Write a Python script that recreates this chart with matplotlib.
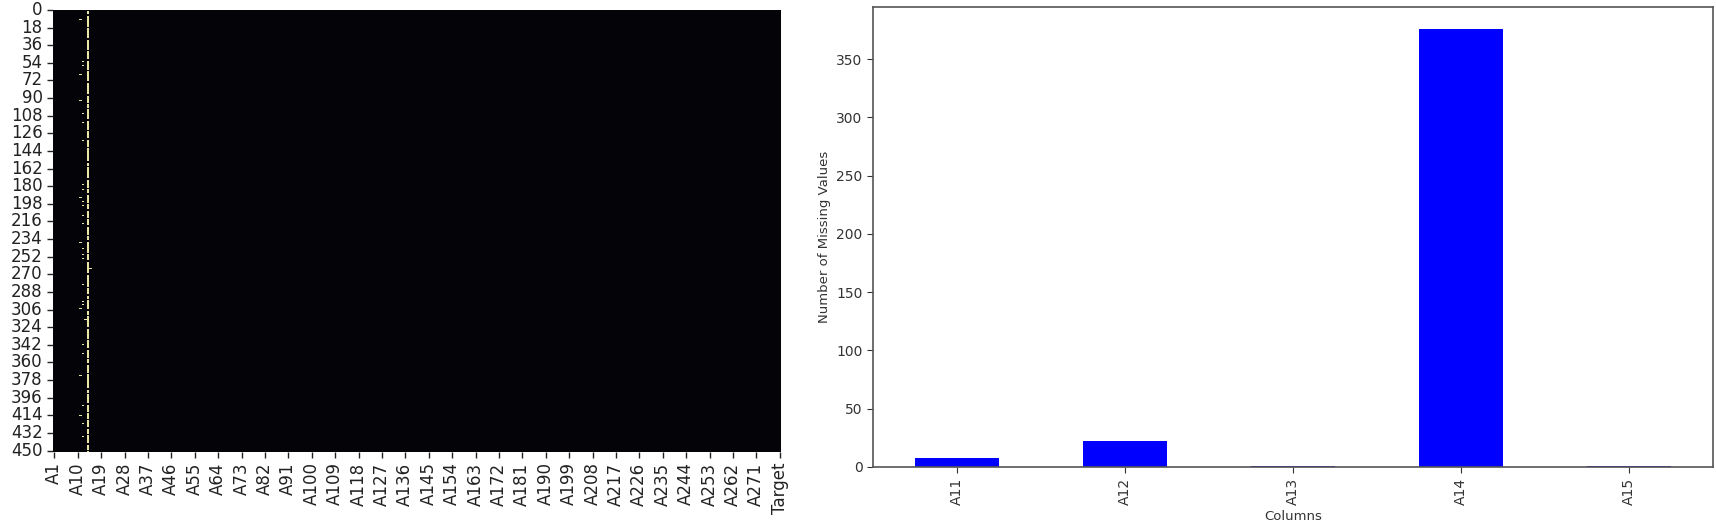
import numpy as np
import pandas as pd
import matplotlib
matplotlib.use("Agg")
import matplotlib.pyplot as plt
from matplotlib.colors import ListedColormap
import seaborn as sns

# ---- data ----
n_rows = 452
column_names = [f"A{i}" for i in range(1, 280)] + ["Target"]

# rows with missing values per column
a11_missing_rows = [10, 66, 92, 192, 238, 305, 373, 414]
a12_missing_rows = [53, 57, 106, 115, 133, 178, 183, 196, 200, 210, 218,
                    244, 250, 254, 280, 298, 301, 342, 351, 404, 422, 436]
a13_missing_rows = [316]
a15_missing_rows = [264]
# A14 is missing almost everywhere; these are the rows where it is present
a14_present_rows = [0, 1, 5, 6, 18, 29, 30, 41, 51, 52, 62, 73, 74, 86, 87,
                    95, 96, 101, 112, 113, 123, 131, 132, 140, 155, 156, 160,
                    172, 173, 182, 187, 188, 198, 204, 205, 213, 220, 221, 230,
                    235, 236, 249, 256, 257, 269, 270, 283, 291, 292, 296, 306,
                    307, 312, 324, 325, 337, 346, 347, 356, 361, 362, 371, 380,
                    387, 388, 392, 402, 403, 411, 418, 426, 427, 434, 443, 444,
                    450]

bar_columns = ["A11", "A12", "A13", "A14", "A15"]
missing_counts = [8, 22, 1, 376, 1]

# ---- build missing matrix ----
missing = pd.DataFrame(np.zeros((n_rows, len(column_names)), dtype=bool),
                       columns=column_names)
missing.loc[a11_missing_rows, "A11"] = True
missing.loc[a12_missing_rows, "A12"] = True
missing.loc[a13_missing_rows, "A13"] = True
missing.loc[a15_missing_rows, "A15"] = True
missing["A14"] = True
missing.loc[a14_present_rows, "A14"] = False

W, H = 1716, 523
fig = plt.figure(figsize=(W / 100, H / 100), dpi=100)

# ---- left: heatmap ----
ax1 = fig.add_axes([53 / W, (H - 452) / H, 728 / W, 442.5 / H])
cmap = ListedColormap(["#030308", "#ebe5a5"])
sns.heatmap(missing.astype(int), cmap=cmap, cbar=False,
            xticklabels=9, yticklabels=18, ax=ax1)
ax1.tick_params(axis="both", labelsize=12, length=4, width=1,
                colors="#222222")
plt.setp(ax1.get_xticklabels(), rotation=90)
plt.setp(ax1.get_yticklabels(), rotation=0)

# ---- right: bar chart ----
ax2 = fig.add_axes([873 / W, (H - 467) / H, 840 / W, 460 / H])
x = np.arange(len(bar_columns))
ax2.bar(x, missing_counts, width=0.5, color="blue")
ax2.set_xlim(-0.5, len(bar_columns) - 0.5)
ax2.set_ylim(0, max(missing_counts) * 1.05)
ax2.set_xticks(x)
ax2.set_xticklabels(bar_columns, rotation=90)
ax2.set_yticks(np.arange(0, 351, 50))
ax2.tick_params(axis="both", labelsize=10, colors="#333333", length=4)
ax2.set_xlabel("Columns", fontsize=9.5, color="#333333")
ax2.set_ylabel("Number of Missing Values", fontsize=9.5, color="#333333")
for s in ax2.spines.values():
    s.set_color("#555555")
    s.set_linewidth(1.2)

fig.savefig("out.png", dpi=100)
